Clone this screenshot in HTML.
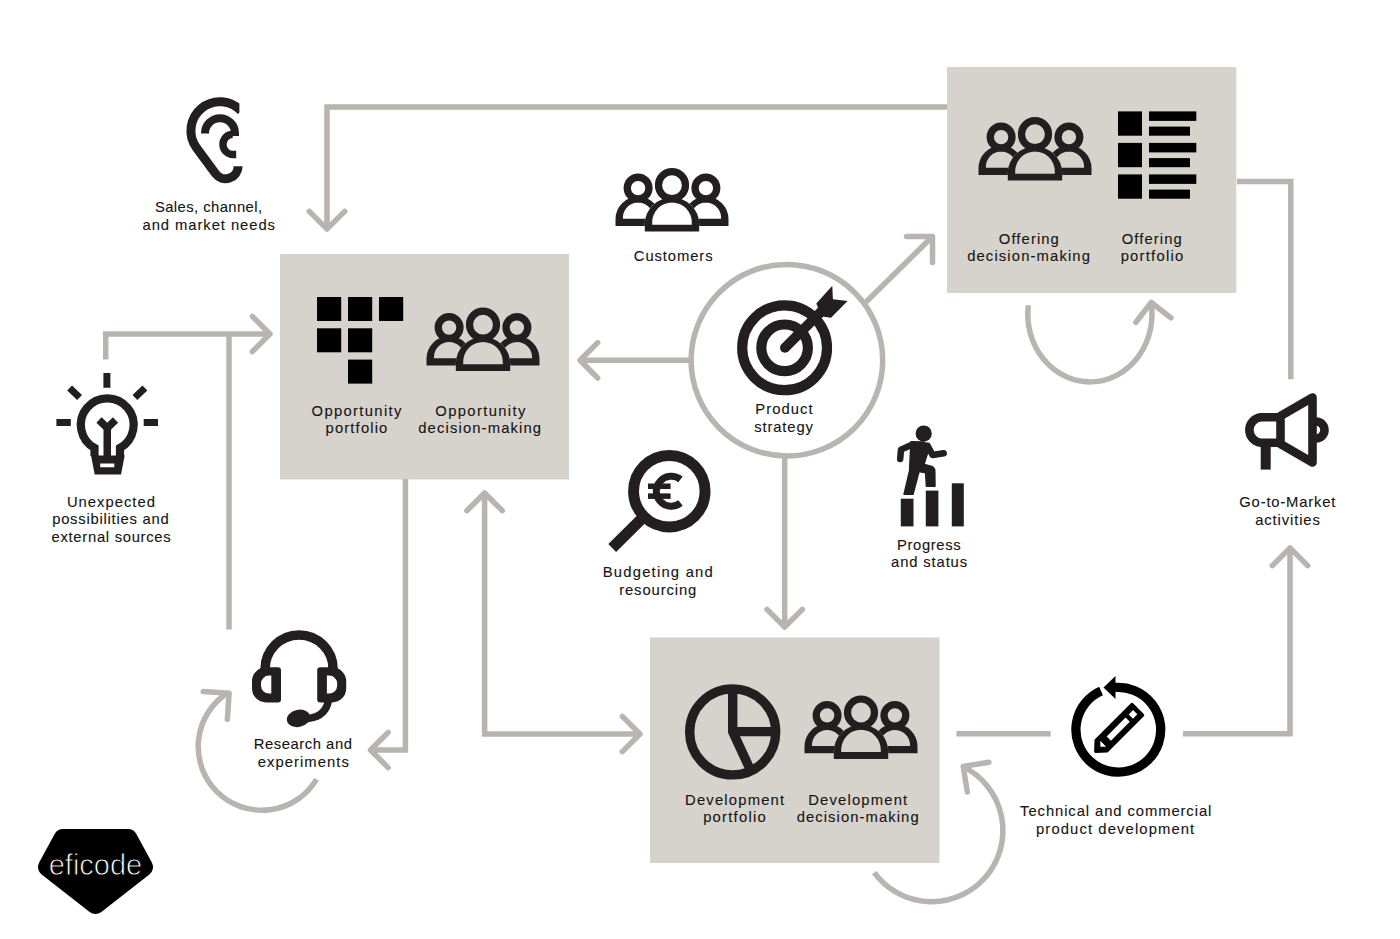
<!DOCTYPE html>
<html><head><meta charset="utf-8"><title>Eficode product management diagram</title>
<style>
html,body{margin:0;padding:0;background:#fff;width:1400px;height:939px;overflow:hidden}
svg{display:block}
text{font-family:"Liberation Sans",sans-serif}
</style></head><body>
<svg width="1400" height="939" viewBox="0 0 1400 939">
<rect width="1400" height="939" fill="#fff"/>
<rect x="280" y="254" width="289" height="225.5" fill="#d6d2cc"/>
<rect x="947" y="67" width="289.3" height="226" fill="#d6d2cc"/>
<rect x="650" y="637.5" width="289.5" height="225.5" fill="#d6d2cc"/>
<path d="M947 107 H327 V229" fill="none" stroke="#b8b4af" stroke-width="5.5" stroke-linecap="butt" stroke-linejoin="miter"/>
<path d="M344.68 211.32 L327 229 L309.32 211.32" fill="none" stroke="#b8b4af" stroke-width="5.5" stroke-linecap="round" stroke-linejoin="round"/>
<path d="M105.7 359.5 V334 H270" fill="none" stroke="#b8b4af" stroke-width="5.5" stroke-linecap="butt" stroke-linejoin="miter"/>
<path d="M252.32 316.32 L270 334 L252.32 351.68" fill="none" stroke="#b8b4af" stroke-width="5.5" stroke-linecap="round" stroke-linejoin="round"/>
<path d="M229 334 V629.5" fill="none" stroke="#b8b4af" stroke-width="5.5" stroke-linecap="butt" stroke-linejoin="miter"/>
<path d="M405.4 479 V750 H371" fill="none" stroke="#b8b4af" stroke-width="5.5" stroke-linecap="butt" stroke-linejoin="miter"/>
<path d="M388.18 767.68 L370.5 750 L388.18 732.32" fill="none" stroke="#b8b4af" stroke-width="5.5" stroke-linecap="round" stroke-linejoin="round"/>
<path d="M484.6 493 V734 H640" fill="none" stroke="#b8b4af" stroke-width="5.5" stroke-linecap="butt" stroke-linejoin="miter"/>
<path d="M466.92 510.68 L484.6 493 L502.28 510.68" fill="none" stroke="#b8b4af" stroke-width="5.5" stroke-linecap="round" stroke-linejoin="round"/>
<path d="M622.32 716.32 L640 734 L622.32 751.68" fill="none" stroke="#b8b4af" stroke-width="5.5" stroke-linecap="round" stroke-linejoin="round"/>
<circle cx="786.9" cy="360.2" r="95.8" fill="none" stroke="#b8b4af" stroke-width="5.5"/>
<path d="M689 360.3 H580" fill="none" stroke="#b8b4af" stroke-width="5.5" stroke-linecap="butt" stroke-linejoin="miter"/>
<path d="M597.68 377.98 L580 360.3 L597.68 342.62" fill="none" stroke="#b8b4af" stroke-width="5.5" stroke-linecap="round" stroke-linejoin="round"/>
<path d="M784.7 458 V627" fill="none" stroke="#b8b4af" stroke-width="5.5" stroke-linecap="butt" stroke-linejoin="miter"/>
<path d="M802.38 609.32 L784.7 627 L767.02 609.32" fill="none" stroke="#b8b4af" stroke-width="5.5" stroke-linecap="round" stroke-linejoin="round"/>
<path d="M866 302 L932.5 236.5" fill="none" stroke="#b8b4af" stroke-width="5.5" stroke-linecap="butt" stroke-linejoin="miter"/>
<path d="M906.5 236.5 L932.5 236.5 L932.5 262.5" fill="none" stroke="#b8b4af" stroke-width="5.5" stroke-linecap="round" stroke-linejoin="round"/>
<path d="M1237 181.5 H1290.8 V379.2" fill="none" stroke="#b8b4af" stroke-width="5.5" stroke-linecap="butt" stroke-linejoin="miter"/>
<path d="M956.4 733.7 H1050.7" fill="none" stroke="#b8b4af" stroke-width="5.5" stroke-linecap="butt" stroke-linejoin="miter"/>
<path d="M1183 733.7 H1290 V548" fill="none" stroke="#b8b4af" stroke-width="5.5" stroke-linecap="butt" stroke-linejoin="miter"/>
<path d="M1272.32 565.68 L1290 548 L1307.68 565.68" fill="none" stroke="#b8b4af" stroke-width="5.5" stroke-linecap="round" stroke-linejoin="round"/>
<path d="M874.24 872.55 A71.2 71.2 0 1 0 963.14 766.62" fill="none" stroke="#b8b4af" stroke-width="5.5" stroke-linecap="butt" stroke-linejoin="miter"/>
<path d="M967.36 792.07 L963.2 766.4 L988.87 762.24" fill="none" stroke="#b8b4af" stroke-width="5.5" stroke-linecap="round" stroke-linejoin="round"/>
<path d="M316.5 779.41 A63.7 63.7 0 1 1 228.52 692.34" fill="none" stroke="#b8b4af" stroke-width="5.5" stroke-linecap="butt" stroke-linejoin="miter"/>
<path d="M203.16 691.55 L229.1 693.3 L227.35 719.24" fill="none" stroke="#b8b4af" stroke-width="5.5" stroke-linecap="round" stroke-linejoin="round"/>
<path d="M1028.35 305.25 A62.1 67.7 0 1 0 1150.82 301.05" fill="none" stroke="#b8b4af" stroke-width="5.5" stroke-linecap="butt" stroke-linejoin="miter"/>
<path d="M1135.86 322.24 L1151.2 302.5 L1170.94 317.84" fill="none" stroke="#b8b4af" stroke-width="5.5" stroke-linecap="round" stroke-linejoin="round"/>
<g transform="translate(615,168)" fill="#231f20" fill-rule="evenodd"><path d="M0.5 58 V51 A22.6 22.4 0 0 1 45.7 51 V58 Z M7.9 50.8 V50 A15.2 15.4 0 0 1 38.3 50 V50.8 Z"/><circle cx="23.1" cy="20.1" r="10.85" fill="none" stroke="#231f20" stroke-width="7.3"/><path d="M68.3 58 V51 A22.6 22.4 0 0 1 113.5 51 V58 Z M75.7 50.8 V50 A15.2 15.4 0 0 1 106.1 50 V50.8 Z"/><circle cx="90.9" cy="20.1" r="10.85" fill="none" stroke="#231f20" stroke-width="7.3"/><path d="M29.8 63.6 V56 A27.2 26.5 0 0 1 84.2 56 V63.6 Z" fill="#fff"/><circle cx="57" cy="17.2" r="13.5" fill="none" stroke="#231f20" stroke-width="7.2"/><path d="M29.8 63.6 V56 A27.2 26.5 0 0 1 84.2 56 V63.6 Z M37.2 56.7 V54.5 A19.8 20 0 0 1 76.8 54.5 V56.7 Z"/></g>
<g transform="translate(426,307.5)" fill="#231f20" fill-rule="evenodd"><path d="M0.5 58 V51 A22.6 22.4 0 0 1 45.7 51 V58 Z M7.9 50.8 V50 A15.2 15.4 0 0 1 38.3 50 V50.8 Z"/><circle cx="23.1" cy="20.1" r="10.85" fill="none" stroke="#231f20" stroke-width="7.3"/><path d="M68.3 58 V51 A22.6 22.4 0 0 1 113.5 51 V58 Z M75.7 50.8 V50 A15.2 15.4 0 0 1 106.1 50 V50.8 Z"/><circle cx="90.9" cy="20.1" r="10.85" fill="none" stroke="#231f20" stroke-width="7.3"/><path d="M29.8 63.6 V56 A27.2 26.5 0 0 1 84.2 56 V63.6 Z" fill="#d6d2cc"/><circle cx="57" cy="17.2" r="13.5" fill="none" stroke="#231f20" stroke-width="7.2"/><path d="M29.8 63.6 V56 A27.2 26.5 0 0 1 84.2 56 V63.6 Z M37.2 56.7 V54.5 A19.8 20 0 0 1 76.8 54.5 V56.7 Z"/></g>
<g transform="translate(978,117)" fill="#231f20" fill-rule="evenodd"><path d="M0.5 58 V51 A22.6 22.4 0 0 1 45.7 51 V58 Z M7.9 50.8 V50 A15.2 15.4 0 0 1 38.3 50 V50.8 Z"/><circle cx="23.1" cy="20.1" r="10.85" fill="none" stroke="#231f20" stroke-width="7.3"/><path d="M68.3 58 V51 A22.6 22.4 0 0 1 113.5 51 V58 Z M75.7 50.8 V50 A15.2 15.4 0 0 1 106.1 50 V50.8 Z"/><circle cx="90.9" cy="20.1" r="10.85" fill="none" stroke="#231f20" stroke-width="7.3"/><path d="M29.8 63.6 V56 A27.2 26.5 0 0 1 84.2 56 V63.6 Z" fill="#d6d2cc"/><circle cx="57" cy="17.2" r="13.5" fill="none" stroke="#231f20" stroke-width="7.2"/><path d="M29.8 63.6 V56 A27.2 26.5 0 0 1 84.2 56 V63.6 Z M37.2 56.7 V54.5 A19.8 20 0 0 1 76.8 54.5 V56.7 Z"/></g>
<g transform="translate(804,695.3)" fill="#231f20" fill-rule="evenodd"><path d="M0.5 58 V51 A22.6 22.4 0 0 1 45.7 51 V58 Z M7.9 50.8 V50 A15.2 15.4 0 0 1 38.3 50 V50.8 Z"/><circle cx="23.1" cy="20.1" r="10.85" fill="none" stroke="#231f20" stroke-width="7.3"/><path d="M68.3 58 V51 A22.6 22.4 0 0 1 113.5 51 V58 Z M75.7 50.8 V50 A15.2 15.4 0 0 1 106.1 50 V50.8 Z"/><circle cx="90.9" cy="20.1" r="10.85" fill="none" stroke="#231f20" stroke-width="7.3"/><path d="M29.8 63.6 V56 A27.2 26.5 0 0 1 84.2 56 V63.6 Z" fill="#d6d2cc"/><circle cx="57" cy="17.2" r="13.5" fill="none" stroke="#231f20" stroke-width="7.2"/><path d="M29.8 63.6 V56 A27.2 26.5 0 0 1 84.2 56 V63.6 Z M37.2 56.7 V54.5 A19.8 20 0 0 1 76.8 54.5 V56.7 Z"/></g>
<rect x="317" y="297.0" width="24.2" height="24" fill="#000"/>
<rect x="348" y="297.0" width="24.2" height="24" fill="#000"/>
<rect x="379" y="297.0" width="24.2" height="24" fill="#000"/>
<rect x="317" y="328.3" width="24.2" height="24" fill="#000"/>
<rect x="348" y="328.3" width="24.2" height="24" fill="#000"/>
<rect x="348" y="359.6" width="24.2" height="24" fill="#000"/>
<rect x="1118" y="111.4" width="24" height="24.3" fill="#000"/>
<rect x="1149" y="111.4" width="47.3" height="9.5" fill="#000"/>
<rect x="1149" y="126.6" width="41" height="9.1" fill="#000"/>
<rect x="1118" y="142.9" width="24" height="24.3" fill="#000"/>
<rect x="1149" y="142.9" width="47.3" height="9.5" fill="#000"/>
<rect x="1149" y="158.1" width="41" height="9.1" fill="#000"/>
<rect x="1118" y="174.4" width="24" height="24.3" fill="#000"/>
<rect x="1149" y="174.4" width="47.3" height="9.5" fill="#000"/>
<rect x="1149" y="189.6" width="41" height="9.1" fill="#000"/>
<g fill="none" stroke="#231f20" stroke-width="9.4"><circle cx="732.7" cy="731.9" r="43"/><path d="M732.7 690 V731.7 L749.5 768" stroke-linejoin="miter"/><path d="M732.7 731.6 H775"/></g>
<g fill="none" stroke="#231f20"><circle cx="784.6" cy="347.8" r="42.4" stroke-width="10.2"/><circle cx="784.6" cy="347.8" r="23.3" stroke-width="10.2"/><path d="M785 347.7 L822 310.7" stroke-width="10" stroke-linecap="round"/></g>
<path d="M816.3 303.6 L832.3 285.8 L832.9 299.2 L847.6 301.1 L831 317.7 L822 316.4 Z" fill="#231f20"/>
<g fill="none" stroke="#231f20" stroke-width="8.6" stroke-linejoin="round"><path d="M1280.5 417.3 H1261 A12.75 12.75 0 0 0 1261 442.7 H1280.5"/><path d="M1280.5 416 L1312.5 397.5 V462.5 L1280.5 444 Z"/><path d="M1316 421.5 A8.5 8.5 0 0 1 1316 438.5"/></g><rect x="1260.7" y="440" width="10" height="29.6" fill="#231f20"/>
<g fill="none" stroke="#000" stroke-width="9.3">
<path d="M1114.97 687.48 A42.4 42.4 0 1 1 1101.05 691.02"/></g>
<path d="M1115.5 676 L1103.5 687.5 L1115.5 699 Z" fill="#000"/>
<g transform="translate(1116.5,730.6) rotate(-45)"><path fill="#000" stroke="#000" stroke-width="3" stroke-linejoin="round" d="M-29.5 0 L-21.4 -7.6 L29.5 -7.6 L29.5 7.6 L-21.4 7.6 Z"/><path fill="#fff" d="M-11.1 -2.8 H15.6 V3.2 H-11.1 Z M20.1 -2.8 H26.2 V3.2 H20.1 Z M-18.7 -4.2 L-22.8 0 L-18.7 4 Z"/></g>
<g fill="none" stroke="#231f20"><circle cx="669.3" cy="491.2" r="35.75" stroke-width="10.9"/><path d="M644 516.5 L612.2 548" stroke-width="11"/></g>
<path d="M680.53 479.38 A15 15 0 1 0 680.53 503.02" fill="none" stroke="#231f20" stroke-width="7"/>
<rect x="648" y="483.5" width="22.6" height="5.5" fill="#231f20"/><rect x="648" y="493.4" width="22.6" height="5.5" fill="#231f20"/>
<rect x="900.8" y="498.7" width="12.7" height="27.7" fill="#231f20"/><rect x="925.8" y="490.6" width="12.6" height="35.8" fill="#231f20"/><rect x="951.8" y="483.3" width="12" height="43.1" fill="#231f20"/>
<circle cx="923.7" cy="433.6" r="8.1" fill="#231f20"/>
<g fill="#231f20" stroke="#231f20" stroke-width="1.5" stroke-linejoin="round"><path d="M911 441.7 L924 442 L930 446.4 L926.6 456 L923.5 466 L920 471 L909.6 469.5 L910.5 451.5 Z"/><path d="M910.5 467 L919.4 470 L913 494.3 L904 494.3 Z"/><path d="M922.4 464 L931.8 466.5 Q934.8 468 934.8 471 L935 486.2 H926.4 L925.6 472.8 L919 471.5 Z"/></g>
<g fill="none" stroke="#231f20" stroke-width="6.5" stroke-linecap="round" stroke-linejoin="round"><path d="M912 444.7 L901 449.6 L900.2 459"/><path d="M927.5 445.6 L932.6 455 L943.7 453.2"/></g>
<g fill="none" stroke="#231f20" stroke-width="7.5">
<path d="M94.5 456 V447.9 A26.4 26.4 0 1 1 120 447.9 V456" stroke-width="8.2"/>
<path d="M99 420 L107.25 428 L115.5 420 M107.25 428 V456"/>
<path d="M106.9 373 V387.7 M56.4 422.4 H70.8 M143.7 422.4 H158 M69.6 388 L79.6 397.5 M144.9 388 L134.9 397.5" stroke-width="7"/>
</g>
<path fill-rule="evenodd" fill="#231f20" d="M91 455.6 H124.7 L121 474.6 H94.7 Z M100.2 463.6 H114.3 V467.3 H100.2 Z"/>
<clipPath id="earclip"><path d="M150 80 H239.4 V125 H260 V200 H150 Z"/></clipPath>
<g fill="none" stroke="#231f20" stroke-width="9" clip-path="url(#earclip)"><path d="M241.2 111 A29 29 0 0 0 196.36 147.61 L215.54 173.62 A12.5 12.5 0 0 0 238.1 166.2"/><path d="M205 133.5 V133.2 A15 15 0 0 1 235 133.2 V136" stroke-width="8"/><path d="M232.6 134.3 A10.1 10.1 0 0 0 233.5 154.5 H236.2" stroke-width="7.4"/></g>
<g fill="none" stroke="#231f20" stroke-width="9.5"><path d="M265.1 670 V668.9 A34 34 0 0 1 333.1 668.9 V670"/></g>
<path fill-rule="evenodd" fill="#231f20" d="M278 667.3 H266 A14 14 0 0 0 252 681.3 V688.4 A14 14 0 0 0 266 702.4 H278 A3 3 0 0 0 281 699.4 V670.3 A3 3 0 0 0 278 667.3 Z M271.3 675.6 H269 A8 8 0 0 0 261 683.6 V685.5 A8 8 0 0 0 269 693.5 H271.3 Z"/>
<path fill-rule="evenodd" fill="#231f20" d="M320.2 667.3 H332.2 A14 14 0 0 1 346.2 681.3 V688.4 A14 14 0 0 1 332.2 702.4 H320.2 A3 3 0 0 1 317.2 699.4 V670.3 A3 3 0 0 1 320.2 667.3 Z M326.9 675.6 H329.2 A8 8 0 0 1 337.2 683.6 V685.5 A8 8 0 0 1 329.2 693.5 H326.9 Z"/>
<path d="M328.5 700 Q326 716 309 718.4" fill="none" stroke="#231f20" stroke-width="7.5" stroke-linecap="round"/>
<ellipse cx="298.5" cy="718.4" rx="11.8" ry="8.6" transform="rotate(-12 298.5 718.4)" fill="#231f20"/>
<path d="M63 838.5 H128 L143.5 867 L95.5 904.5 L47.5 867 Z" fill="#000" stroke="#000" stroke-width="19" stroke-linejoin="round"/>
<text x="95.5" y="875" font-size="29" fill="#fff" stroke="#000" stroke-width="0.9" text-anchor="middle" letter-spacing="0">eficode</text>
<text x="208.5" y="212.1" font-size="14.8" text-anchor="middle" textLength="107.2" lengthAdjust="spacing" fill="#161414" stroke="#161414" stroke-width="0.12">Sales, channel,</text>
<text x="208.75" y="229.8" font-size="14.8" text-anchor="middle" textLength="132.4" lengthAdjust="spacing" fill="#161414" stroke="#161414" stroke-width="0.12">and market needs</text>
<text x="673.2" y="261.4" font-size="14.8" text-anchor="middle" textLength="78.8" lengthAdjust="spacing" fill="#161414" stroke="#161414" stroke-width="0.12">Customers</text>
<text x="356.45" y="416" font-size="14.8" text-anchor="middle" textLength="89.8" lengthAdjust="spacing" fill="#161414" stroke="#161414" stroke-width="0.12">Opportunity</text>
<text x="356.45" y="433" font-size="14.8" text-anchor="middle" textLength="61.8" lengthAdjust="spacing" fill="#161414" stroke="#161414" stroke-width="0.12">portfolio</text>
<text x="480.35" y="416" font-size="14.8" text-anchor="middle" textLength="90" lengthAdjust="spacing" fill="#161414" stroke="#161414" stroke-width="0.12">Opportunity</text>
<text x="479.65" y="433" font-size="14.8" text-anchor="middle" textLength="122.8" lengthAdjust="spacing" fill="#161414" stroke="#161414" stroke-width="0.12">decision-making</text>
<text x="783.95" y="414.2" font-size="14.8" text-anchor="middle" textLength="57.4" lengthAdjust="spacing" fill="#161414" stroke="#161414" stroke-width="0.12">Product</text>
<text x="783.6" y="431.6" font-size="14.8" text-anchor="middle" textLength="58.6" lengthAdjust="spacing" fill="#161414" stroke="#161414" stroke-width="0.12">strategy</text>
<text x="1028.85" y="243.9" font-size="14.8" text-anchor="middle" textLength="60" lengthAdjust="spacing" fill="#161414" stroke="#161414" stroke-width="0.12">Offering</text>
<text x="1028.55" y="261.3" font-size="14.8" text-anchor="middle" textLength="122.8" lengthAdjust="spacing" fill="#161414" stroke="#161414" stroke-width="0.12">decision-making</text>
<text x="1151.75" y="243.9" font-size="14.8" text-anchor="middle" textLength="60" lengthAdjust="spacing" fill="#161414" stroke="#161414" stroke-width="0.12">Offering</text>
<text x="1151.95" y="261.3" font-size="14.8" text-anchor="middle" textLength="62.6" lengthAdjust="spacing" fill="#161414" stroke="#161414" stroke-width="0.12">portfolio</text>
<text x="110.9" y="506.6" font-size="14.8" text-anchor="middle" textLength="88" lengthAdjust="spacing" fill="#161414" stroke="#161414" stroke-width="0.12">Unexpected</text>
<text x="110.45" y="524.3" font-size="14.8" text-anchor="middle" textLength="116.6" lengthAdjust="spacing" fill="#161414" stroke="#161414" stroke-width="0.12">possibilities and</text>
<text x="111.1" y="541.9" font-size="14.8" text-anchor="middle" textLength="119.2" lengthAdjust="spacing" fill="#161414" stroke="#161414" stroke-width="0.12">external sources</text>
<text x="657.75" y="577.4" font-size="14.8" text-anchor="middle" textLength="110" lengthAdjust="spacing" fill="#161414" stroke="#161414" stroke-width="0.12">Budgeting and</text>
<text x="657.75" y="595.3" font-size="14.8" text-anchor="middle" textLength="77.2" lengthAdjust="spacing" fill="#161414" stroke="#161414" stroke-width="0.12">resourcing</text>
<text x="928.8" y="549.6" font-size="14.8" text-anchor="middle" textLength="63.8" lengthAdjust="spacing" fill="#161414" stroke="#161414" stroke-width="0.12">Progress</text>
<text x="929.1" y="567.3" font-size="14.8" text-anchor="middle" textLength="76" lengthAdjust="spacing" fill="#161414" stroke="#161414" stroke-width="0.12">and status</text>
<text x="1287.35" y="507.4" font-size="14.8" text-anchor="middle" textLength="96.2" lengthAdjust="spacing" fill="#161414" stroke="#161414" stroke-width="0.12">Go-to-Market</text>
<text x="1287.55" y="525.2" font-size="14.8" text-anchor="middle" textLength="64.6" lengthAdjust="spacing" fill="#161414" stroke="#161414" stroke-width="0.12">activities</text>
<text x="302.8" y="749.3" font-size="14.8" text-anchor="middle" textLength="98.2" lengthAdjust="spacing" fill="#161414" stroke="#161414" stroke-width="0.12">Research and</text>
<text x="303.3" y="766.9" font-size="14.8" text-anchor="middle" textLength="91.2" lengthAdjust="spacing" fill="#161414" stroke="#161414" stroke-width="0.12">experiments</text>
<text x="734.6" y="804.6" font-size="14.8" text-anchor="middle" textLength="99" lengthAdjust="spacing" fill="#161414" stroke="#161414" stroke-width="0.12">Development</text>
<text x="734.45" y="822.1" font-size="14.8" text-anchor="middle" textLength="62.6" lengthAdjust="spacing" fill="#161414" stroke="#161414" stroke-width="0.12">portfolio</text>
<text x="857.7" y="804.6" font-size="14.8" text-anchor="middle" textLength="99" lengthAdjust="spacing" fill="#161414" stroke="#161414" stroke-width="0.12">Development</text>
<text x="857.65" y="822.1" font-size="14.8" text-anchor="middle" textLength="122" lengthAdjust="spacing" fill="#161414" stroke="#161414" stroke-width="0.12">decision-making</text>
<text x="1115.72" y="816.3" font-size="14.8" text-anchor="middle" textLength="191.2" lengthAdjust="spacing" fill="#161414" stroke="#161414" stroke-width="0.12">Technical and commercial</text>
<text x="1115.1" y="833.7" font-size="14.8" text-anchor="middle" textLength="158.2" lengthAdjust="spacing" fill="#161414" stroke="#161414" stroke-width="0.12">product development</text>
</svg></body></html>
